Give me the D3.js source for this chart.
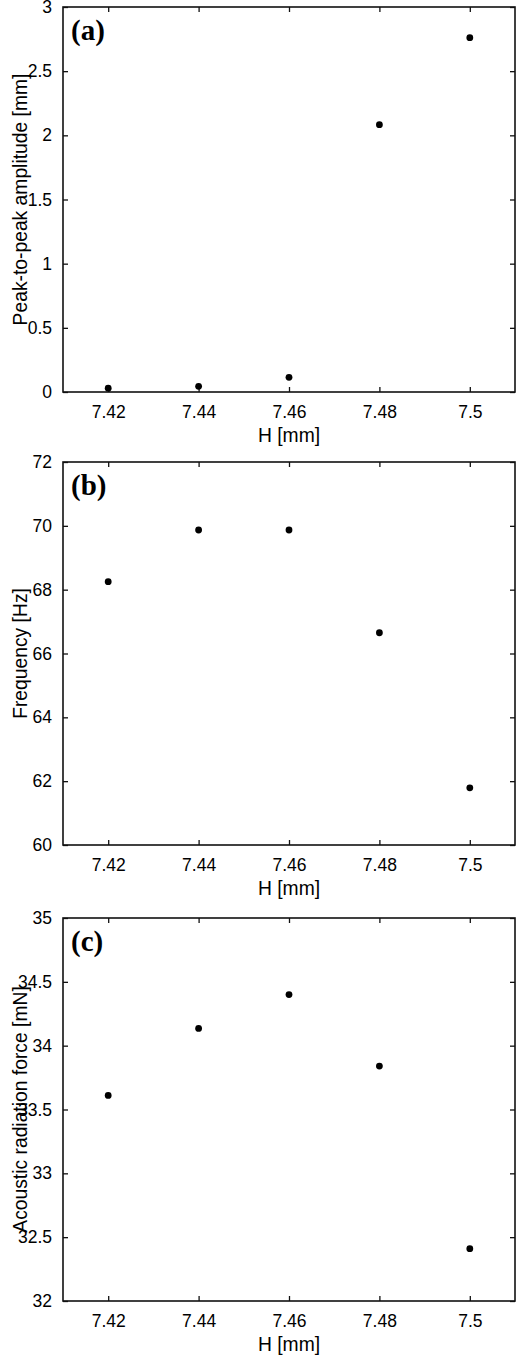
<!DOCTYPE html>
<html>
<head>
<meta charset="utf-8">
<script src="https://cdn.jsdelivr.net/npm/d3@7"></script>
<style>
  html, body { margin: 0; padding: 0; background: #fff; }
  svg { display: block; }
  text { font-family: Arial, "Liberation Sans", Helvetica, sans-serif; fill: #000; }
</style>
</head>
<body>
<script>
// ---- data ----
const H = [7.42, 7.44, 7.46, 7.48, 7.5];
const amplitude = [0.03, 0.044, 0.114, 2.083, 2.761];      // mm
const frequency = [68.25, 69.87, 69.87, 66.65, 61.79];     // Hz
const force = [33.61, 34.135, 34.40, 33.84, 32.41];        // mN

const xTicks = [7.42, 7.44, 7.46, 7.48, 7.5];
const xTickLabels = ["7.42", "7.44", "7.46", "7.48", "7.5"];
const xDomain = [7.41, 7.51];

const ampTicks = [0, 0.5, 1, 1.5, 2, 2.5, 3];
const ampTickLabels = ["0", "0.5", "1", "1.5", "2", "2.5", "3"];
const freqTicks = [60, 62, 64, 66, 68, 70, 72];
const freqTickLabels = ["60", "62", "64", "66", "68", "70", "72"];
const forceTicks = [32, 32.5, 33, 33.5, 34, 34.5, 35];
const forceTickLabels = ["32", "32.5", "33", "33.5", "34", "34.5", "35"];

const panels = [
  { tag: "(a)", values: amplitude, yDomain: [0, 3], ticks: ampTicks, labels: ampTickLabels, yTitle: "Peak-to-peak amplitude [mm]", top: 7, bottom: 392 },
  { tag: "(b)", values: frequency, yDomain: [60, 72], ticks: freqTicks, labels: freqTickLabels, yTitle: "Frequency [Hz]", top: 462, bottom: 845 },
  { tag: "(c)", values: force, yDomain: [32, 35], ticks: forceTicks, labels: forceTickLabels, yTitle: "Acoustic radiation force [mN]", top: 918, bottom: 1301 }
];

// ---- drawing ----
const W = 520, HT = 1357;
const left = 63, right = 515;
const tickLen = 5;
const axisColor = "#111";
const tickFont = 17.5, titleFont = 19.3;

const svg = d3.select("body").append("svg").attr("width", W).attr("height", HT);

const x = d3.scaleLinear().domain(xDomain).range([left, right]);

panels.forEach(p => {
  const y = d3.scaleLinear().domain(p.yDomain).range([p.bottom, p.top]);
  const g = svg.append("g");

  // bottom axis (ticks inward)
  const xAxisB = d3.axisBottom(x).tickValues(xTicks)
    .tickFormat((d, i) => xTickLabels[i]).tickSizeInner(-tickLen).tickSizeOuter(0).tickPadding(tickLen + 9);
  const gb = g.append("g").attr("transform", `translate(0,${p.bottom})`).call(xAxisB);
  gb.selectAll("text").attr("font-size", tickFont).style("font-family", "Arial, 'Liberation Sans', sans-serif").attr("fill", "#000");

  // top axis ticks (no labels)
  const xAxisT = d3.axisTop(x).tickValues(xTicks).tickFormat("").tickSizeInner(-tickLen).tickSizeOuter(0);
  g.append("g").attr("transform", `translate(0,${p.top})`).call(xAxisT);

  // left axis
  const yAxisL = d3.axisLeft(y).tickValues(p.ticks)
    .tickFormat((d, i) => p.labels[i]).tickSizeInner(-tickLen).tickSizeOuter(0).tickPadding(tickLen + 6);
  const gl = g.append("g").attr("transform", `translate(${left},0)`).call(yAxisL);
  gl.selectAll("text").attr("font-size", tickFont).style("font-family", "Arial, 'Liberation Sans', sans-serif").attr("fill", "#000");

  // right axis ticks
  const yAxisR = d3.axisRight(y).tickValues(p.ticks).tickFormat("").tickSizeInner(-tickLen).tickSizeOuter(0);
  g.append("g").attr("transform", `translate(${right},0)`).call(yAxisR);

  g.selectAll(".domain").remove();
  g.selectAll(".tick line").attr("stroke", axisColor).attr("stroke-width", 1.3);

  // box
  g.append("rect")
    .attr("x", left).attr("y", p.top)
    .attr("width", right - left).attr("height", p.bottom - p.top)
    .attr("fill", "none").attr("stroke", axisColor).attr("stroke-width", 1.6);

  // points
  g.selectAll("circle.pt").data(H).enter().append("circle")
    .attr("class", "pt")
    .attr("cx", d => x(d))
    .attr("cy", (d, i) => y(p.values[i]))
    .attr("r", 3.4)
    .attr("fill", "#000");

  // x title
  g.append("text")
    .attr("x", (left + right) / 2).attr("y", p.bottom + 50)
    .attr("text-anchor", "middle").attr("font-size", titleFont)
    .text("H [mm]");

  // y title
  g.append("text")
    .attr("transform", `translate(27,${(p.top + p.bottom) / 2}) rotate(-90)`)
    .attr("text-anchor", "middle").attr("font-size", titleFont)
    .text(p.yTitle);

  // panel tag
  g.append("text")
    .attr("x", left + 8).attr("y", p.top + 32.5)
    .attr("font-size", 29).attr("font-weight", "bold")
    .style("font-family", "'Liberation Serif', 'Times New Roman', 'DejaVu Serif', serif")
    .text(p.tag);
});
</script>
</body>
</html>
